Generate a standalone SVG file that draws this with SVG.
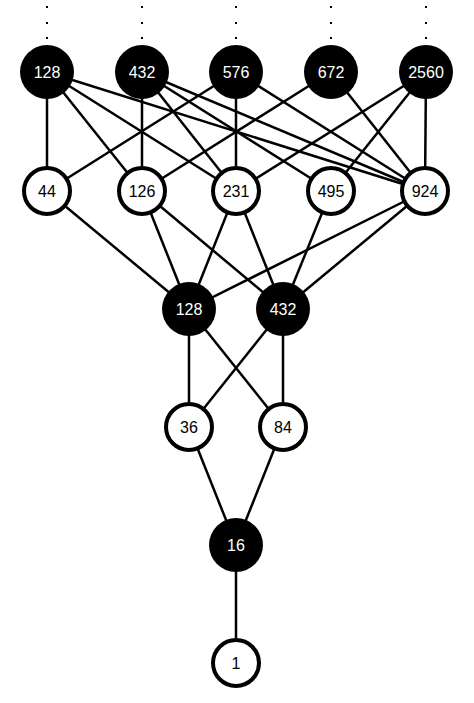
<svg xmlns="http://www.w3.org/2000/svg" width="474" height="703" viewBox="0 0 474 703">
<style>
.e{stroke:#000;stroke-width:2.5;fill:none}
.b{fill:#000}
.w{fill:#fff;stroke:#000;stroke-width:4}
.tb{fill:#fff;font-family:"Liberation Sans",Arial,sans-serif;font-size:16px;text-anchor:middle;dominant-baseline:central}
.tw{fill:#000;font-family:"Liberation Sans",Arial,sans-serif;font-size:16px;text-anchor:middle;dominant-baseline:central}
.d{fill:#000}
</style>
<rect width="474" height="703" fill="#fff"/>
<g id="dots">
<rect class="d" x="46" y="6" width="2" height="2"/><rect class="d" x="46" y="22" width="2" height="2"/><rect class="d" x="46" y="37" width="2" height="2"/>
<rect class="d" x="141" y="6" width="2" height="2"/><rect class="d" x="141" y="22" width="2" height="2"/><rect class="d" x="141" y="37" width="2" height="2"/>
<rect class="d" x="235" y="6" width="2" height="2"/><rect class="d" x="235" y="22" width="2" height="2"/><rect class="d" x="235" y="37" width="2" height="2"/>
<rect class="d" x="330" y="6" width="2" height="2"/><rect class="d" x="330" y="22" width="2" height="2"/><rect class="d" x="330" y="37" width="2" height="2"/>
<rect class="d" x="425" y="6" width="2" height="2"/><rect class="d" x="425" y="22" width="2" height="2"/><rect class="d" x="425" y="37" width="2" height="2"/>
</g>
<g id="connectors">
<line class="e" x1="47" y1="72" x2="47" y2="191"/>
<line class="e" x1="47" y1="72" x2="142" y2="191"/>
<line class="e" x1="47" y1="72" x2="236" y2="191"/>
<line class="e" x1="47" y1="72" x2="425" y2="191"/>
<line class="e" x1="142" y1="72" x2="142" y2="191"/>
<line class="e" x1="142" y1="72" x2="236" y2="191"/>
<line class="e" x1="142" y1="72" x2="331" y2="191"/>
<line class="e" x1="142" y1="72" x2="425" y2="191"/>
<line class="e" x1="236" y1="72" x2="47" y2="191"/>
<line class="e" x1="236" y1="72" x2="236" y2="191"/>
<line class="e" x1="236" y1="72" x2="425" y2="191"/>
<line class="e" x1="331" y1="72" x2="142" y2="191"/>
<line class="e" x1="331" y1="72" x2="425" y2="191"/>
<line class="e" x1="426" y1="72" x2="236" y2="191"/>
<line class="e" x1="426" y1="72" x2="331" y2="191"/>
<line class="e" x1="426" y1="72" x2="425" y2="191"/>
<line class="e" x1="47" y1="191" x2="189" y2="309"/>
<line class="e" x1="142" y1="191" x2="189" y2="309"/>
<line class="e" x1="142" y1="191" x2="283" y2="309"/>
<line class="e" x1="236" y1="191" x2="189" y2="309"/>
<line class="e" x1="236" y1="191" x2="283" y2="309"/>
<line class="e" x1="331" y1="191" x2="283" y2="309"/>
<line class="e" x1="425" y1="191" x2="189" y2="309"/>
<line class="e" x1="425" y1="191" x2="283" y2="309"/>
<line class="e" x1="189" y1="309" x2="189" y2="427"/>
<line class="e" x1="189" y1="309" x2="283" y2="427"/>
<line class="e" x1="283" y1="309" x2="189" y2="427"/>
<line class="e" x1="283" y1="309" x2="283" y2="427"/>
<line class="e" x1="189" y1="427" x2="236" y2="545"/>
<line class="e" x1="283" y1="427" x2="236" y2="545"/>
<line class="e" x1="236" y1="545" x2="236" y2="663"/>
</g>
<g id="n128a"><circle class="b" cx="47" cy="72" r="27"/><text class="tb" x="47" y="72">128</text></g>
<g id="n432a"><circle class="b" cx="142" cy="72" r="27"/><text class="tb" x="142" y="72">432</text></g>
<g id="n576"><circle class="b" cx="236" cy="72" r="27"/><text class="tb" x="236" y="72">576</text></g>
<g id="n672"><circle class="b" cx="331" cy="72" r="27"/><text class="tb" x="331" y="72">672</text></g>
<g id="n2560"><circle class="b" cx="426" cy="72" r="27"/><text class="tb" x="426" y="72">2560</text></g>
<g id="n44"><circle class="w" cx="47" cy="191" r="23"/><text class="tw" x="47" y="191">44</text></g>
<g id="n126"><circle class="w" cx="142" cy="191" r="23"/><text class="tw" x="142" y="191">126</text></g>
<g id="n231"><circle class="w" cx="236" cy="191" r="23"/><text class="tw" x="236" y="191">231</text></g>
<g id="n495"><circle class="w" cx="331" cy="191" r="23"/><text class="tw" x="331" y="191">495</text></g>
<g id="n924"><circle class="w" cx="425" cy="191" r="23"/><text class="tw" x="425" y="191">924</text></g>
<g id="n128b"><circle class="b" cx="189" cy="309" r="27"/><text class="tb" x="189" y="309">128</text></g>
<g id="n432b"><circle class="b" cx="283" cy="309" r="27"/><text class="tb" x="283" y="309">432</text></g>
<g id="n36"><circle class="w" cx="189" cy="427" r="23"/><text class="tw" x="189" y="427">36</text></g>
<g id="n84"><circle class="w" cx="283" cy="427" r="23"/><text class="tw" x="283" y="427">84</text></g>
<g id="n16"><circle class="b" cx="236" cy="545" r="27"/><text class="tb" x="236" y="545">16</text></g>
<g id="n1"><circle class="w" cx="236" cy="663" r="23"/><text class="tw" x="236" y="663">1</text></g>
</svg>
